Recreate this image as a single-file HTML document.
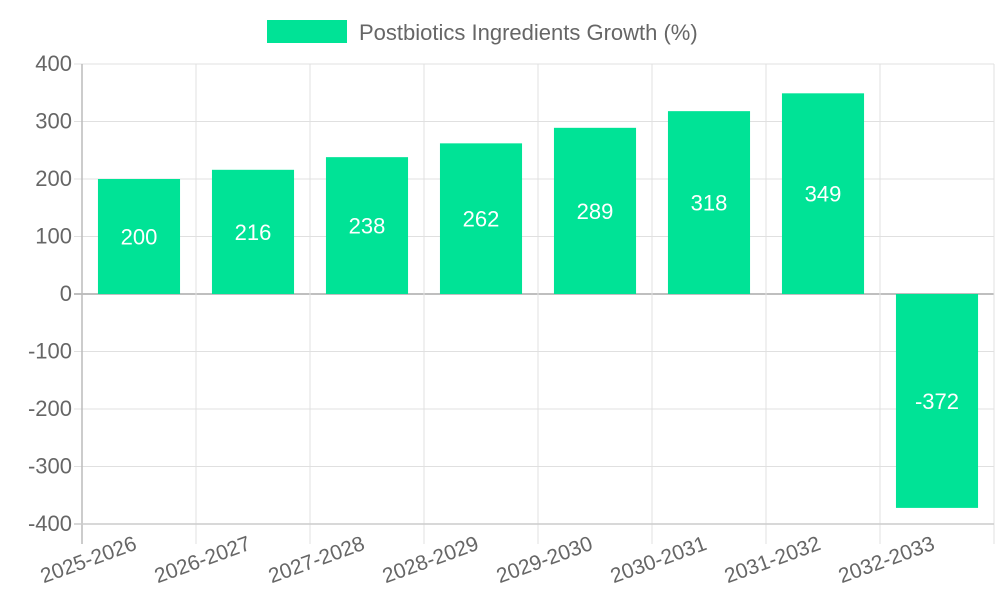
<!DOCTYPE html>
<html><head><meta charset="utf-8"><style>
body{margin:0;background:#fff;}
svg{display:block;font-family:"Liberation Sans",sans-serif;}
</style></head><body>
<svg id="chart" width="1000" height="600">
<g id="legend">
<rect x="267" y="20" width="80" height="23" fill="#00e396"></rect>
<text x="359" y="40" font-size="22" fill="#666">Postbiotics Ingredients Growth (%)</text>
</g>
<g id="grid"></g><g id="bars"></g><g id="labels"></g>
</svg>
<script>
const categories=["2025-2026","2026-2027","2027-2028","2028-2029","2029-2030","2030-2031","2031-2032","2032-2033"];
const values=[200,216,238,262,289,318,349,-372];
const yTicks=[400,300,200,100,0,-100,-200,-300,-400];
const NS="http://www.w3.org/2000/svg";
const L=82,R=994,T=64,B=524,yMin=-400,yMax=400;
const bw=(R-L)/categories.length;
const y=v=>T+(yMax-v)/(yMax-yMin)*(B-T);
const xc=i=>L+bw*(i+0.5);
function mk(tag,attrs,parent){const e=document.createElementNS(NS,tag);for(const k in attrs)e.setAttribute(k,attrs[k]);parent.appendChild(e);return e;}
const grid=document.getElementById('grid'),bars=document.getElementById('bars'),labels=document.getElementById('labels');
yTicks.forEach(t=>{
  const ln=mk('line',{x1:L-8,x2:R,y1:y(t),y2:y(t),stroke:t===0?'#aaa':'#e0e0e0','stroke-width':t===0?1.5:1},grid);
  
  
  const tx=mk('text',{x:L-10,y:y(t)+7,'text-anchor':'end','font-size':22,fill:'#666'},grid);
  tx.textContent=t;
  
  
});
for(let i=0;i<=categories.length;i++){
  const x=L+bw*i;
  const ln=mk('line',{x1:x,x2:x,y1:T,y2:B+20,stroke:i===0?'#bbb':'#e0e0e0','stroke-width':i===0?1.5:1},grid);
  
  
}
mk('line',{x1:L-8,x2:R,y1:B,y2:B,stroke:'#ccc','stroke-width':1.5},grid);
categories.forEach((c,i)=>{
  const v=values[i],w=bw*0.72,x=xc(i)-w/2;
  const top=Math.min(y(v),y(0)),h=Math.abs(y(v)-y(0));
  const r=mk('rect',{x:x,y:top,width:w,height:h,fill:'#00e396'},bars);
  
  
  const vt=mk('text',{x:xc(i),y:top+h/2+8,'text-anchor':'middle','font-size':22,fill:'#fff'},labels);
  vt.textContent=v;
  
  
  const ct=mk('text',{x:xc(i)-1,y:B+25,'text-anchor':'end','font-size':21,fill:'#666',transform:`rotate(-20 ${xc(i)-1} ${B+25})`},labels);
  ct.textContent=c;
  
  
});
</script>
</body></html>
